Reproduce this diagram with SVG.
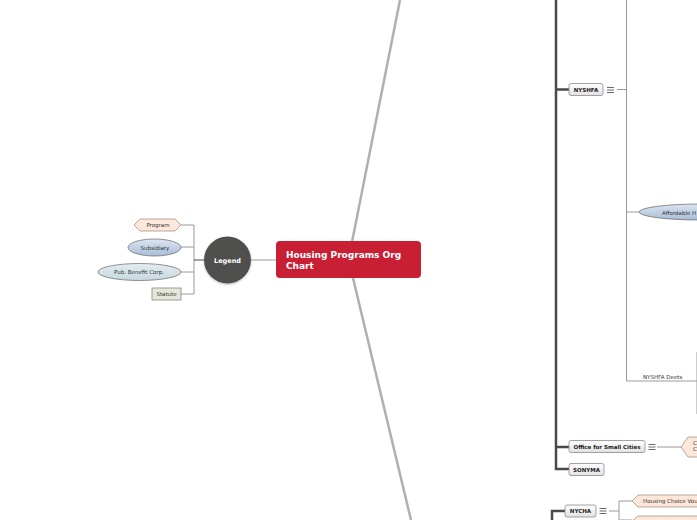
<svg xmlns="http://www.w3.org/2000/svg" width="697" height="520" viewBox="0 0 697 520">
<defs>
<linearGradient id="blue" x1="0" y1="0" x2="0" y2="1"><stop offset="0" stop-color="#dbe5f1"/><stop offset="1" stop-color="#a9bdd8"/></linearGradient>
<linearGradient id="teal" x1="0" y1="0" x2="0" y2="1"><stop offset="0" stop-color="#e3edf0"/><stop offset="1" stop-color="#c5d8de"/></linearGradient>
<linearGradient id="tag" x1="0" y1="0" x2="0" y2="1"><stop offset="0" stop-color="#ffffff"/><stop offset="1" stop-color="#e2e2e2"/></linearGradient>
<filter id="sh" x="-20%" y="-20%" width="140%" height="140%"><feDropShadow dx="0" dy="1" stdDeviation="1.200" flood-color="#000" flood-opacity="0.250"/></filter>
<g id="menu"><path d="M-3.500 -2.500H3.500M-3.500 0H3.500M-3.500 2.500H3.500" stroke="#444" stroke-width="0.800" fill="none"/></g>
</defs>
<style>
text{font-family:"DejaVu Sans","Liberation Sans",sans-serif;fill:#333}
.s{font-size:5.500px}
.b{font-size:5.500px;font-weight:bold;fill:#222}
.thin{stroke:#9a9a9a;stroke-width:1;fill:none}
.dark{stroke:#4a4a4a;stroke-width:2.500;fill:none}
.main{stroke:#b0b0b0;stroke-width:2.500;fill:none}
.prog{fill:#fde7da;stroke:#9a8a7a;stroke-width:0.700}
.tagb{fill:url(#tag);stroke:#8a8a8a;stroke-width:0.800}
</style>
<rect width="697" height="520" fill="#fff"/>
<g id="connectors">
<path class="main" d="M352 242L400 0"/>
<path class="main" d="M353 278L411 520"/>
<path class="thin" d="M251 260H277"/>
<path class="thin" d="M181 225H194V294H181M181 247H194M181 272H194"/>
<path d="M194 260H204" stroke="#4a4a4a" stroke-width="1" fill="none"/>
<path class="dark" d="M556 0V469H569M556 89.500H569M556 447H569"/>
<path class="thin" d="M626.500 0V381H697M617 89.500H626.500M626.500 212H640"/>
<path class="thin" d="M697 352V414"/>
<path class="thin" d="M657 447H682"/>
<path class="dark" d="M552 520V511H565"/>
<path class="thin" d="M609 511H619M619 520V501H632M619 520H632"/>
</g>
<g id="root"><rect x="276" y="241" width="145" height="37" rx="4" fill="#c91f35"/><text x="286" y="258" font-size="9" font-weight="bold" style="fill:#fff">Housing Programs Org</text><text x="286" y="269" font-size="9" font-weight="bold" style="fill:#fff">Chart</text></g>
<g id="legend"><circle cx="227.500" cy="260" r="23.500" fill="#4f4f4d" filter="url(#sh)"/><text x="227.500" y="263" text-anchor="middle" font-size="6.500" font-weight="bold" style="fill:#fff">Legend</text></g>
<g id="legend-program"><path class="prog" d="M134 225L140 219H175L181 225L175 231H140Z"/><text class="s" x="158" y="227" text-anchor="middle">Program</text></g>
<g id="legend-subsidiary"><ellipse cx="154.500" cy="247.500" rx="26.500" ry="8.500" fill="url(#blue)" stroke="#666" stroke-width="0.700"/><text class="s" x="155" y="250" text-anchor="middle">Subsidiary</text></g>
<g id="legend-pbc"><ellipse cx="139.500" cy="272" rx="41.500" ry="8.500" fill="url(#teal)" stroke="#666" stroke-width="0.700"/><text class="s" x="139" y="274" text-anchor="middle">Pub. Benefit Corp.</text></g>
<g id="legend-statute"><rect x="152" y="288" width="29" height="12" fill="#e4e8d8" stroke="#888" stroke-width="0.800"/><text class="s" x="166.500" y="296" text-anchor="middle">Statute</text></g>
<g id="nyshfa"><rect class="tagb" x="569" y="83.500" width="34" height="12" rx="2"/><text class="b" x="586" y="92" text-anchor="middle">NYSHFA</text><use href="#menu" x="610.500" y="90"/></g>
<g id="affordable"><ellipse cx="700" cy="212" rx="61" ry="8" fill="url(#blue)" stroke="#666" stroke-width="0.700"/><text class="s" x="662" y="214.500">Affordable H</text></g>
<g id="nyshfa-deets"><text class="s" x="643" y="379">NYSHFA Deets</text></g>
<g id="small-cities"><rect class="tagb" x="569" y="440.500" width="76" height="12" rx="2"/><text class="b" x="607" y="449" text-anchor="middle">Office for Small Cities</text><use href="#menu" x="652" y="447"/></g>
<g id="cd"><path class="prog" d="M681 447L688 437H700V457H688Z"/><text class="s" x="693" y="445">C</text><text class="s" x="693" y="451">C</text></g>
<g id="sonyma"><rect class="tagb" x="569" y="463.500" width="35" height="12" rx="2"/><text class="b" x="586.500" y="472" text-anchor="middle">SONYMA</text></g>
<g id="nycha"><rect class="tagb" x="565" y="505" width="31" height="12" rx="2"/><text class="b" x="580.500" y="513" text-anchor="middle">NYCHA</text><use href="#menu" x="603" y="511"/></g>
<g id="hcv"><path class="prog" d="M632 501L638 495H700V507H638Z"/><text class="s" x="643" y="503">Housing Choice Vou</text></g>
<g id="next-program"><path class="prog" d="M632 521L638 516H700V526H638Z"/></g>
</svg>
